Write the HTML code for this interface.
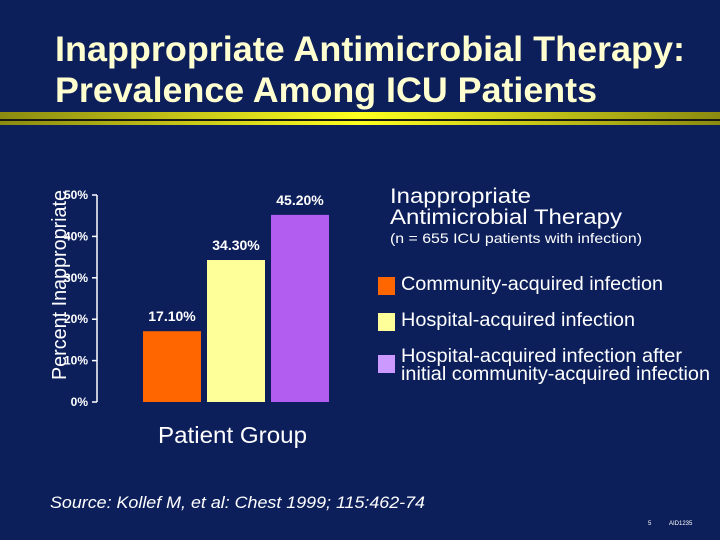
<!DOCTYPE html>
<html><head><meta charset="utf-8"><style>
body{margin:0;background:#0c1f5b;}
svg{display:block;font-family:"Liberation Sans",sans-serif;}
</style></head><body>
<svg width="720" height="540" viewBox="0 0 720 540">
<defs><linearGradient id="band" x1="0" x2="1" y1="0" y2="0">
<stop offset="0" stop-color="#8a8a10"/><stop offset="0.5" stop-color="#ffff20"/><stop offset="1" stop-color="#8a8a10"/></linearGradient></defs>
<rect width="720" height="540" fill="#0c1f5b"/>
<g fill="#ffffd0" font-size="35" font-weight="bold">
<text x="55" y="61" textLength="630" lengthAdjust="spacingAndGlyphs">Inappropriate Antimicrobial Therapy:</text>
<text x="55" y="102" textLength="542" lengthAdjust="spacingAndGlyphs">Prevalence Among ICU Patients</text></g>
<rect x="0" y="112" width="720" height="7" fill="url(#band)"/>
<rect x="0" y="119" width="720" height="2" fill="#1a1a10"/>
<rect x="0" y="121" width="720" height="4" fill="url(#band)"/>
<text transform="translate(66,380) rotate(-90)" font-size="20" fill="#fff" textLength="190" lengthAdjust="spacingAndGlyphs">Percent Inappropriate</text>
<g id="chart"></g>
<text x="158" y="443" font-size="23" fill="#fff" textLength="149" lengthAdjust="spacingAndGlyphs">Patient Group</text>
<g fill="#fff">
<text x="390" y="203" font-size="21" textLength="141" lengthAdjust="spacingAndGlyphs">Inappropriate</text>
<text x="390" y="224" font-size="21" textLength="232" lengthAdjust="spacingAndGlyphs">Antimicrobial Therapy</text>
<text x="390" y="243" font-size="14" textLength="252" lengthAdjust="spacingAndGlyphs">(n = 655 ICU patients with infection)</text>
<rect x="378" y="277" width="17" height="18" fill="#ff6600"/>
<text x="401" y="290" font-size="19" textLength="262" lengthAdjust="spacingAndGlyphs">Community-acquired infection</text>
<rect x="378" y="313" width="17" height="18" fill="#ffff99"/>
<text x="401" y="326" font-size="19" textLength="234" lengthAdjust="spacingAndGlyphs">Hospital-acquired infection</text>
<rect x="378" y="355" width="17" height="18" fill="#cc99ff"/>
<text x="401" y="362" font-size="19" textLength="281" lengthAdjust="spacingAndGlyphs">Hospital-acquired infection after</text>
<text x="401" y="380" font-size="19" textLength="309" lengthAdjust="spacingAndGlyphs">initial community-acquired infection</text>
</g>
<text x="50" y="508" font-size="17" font-style="italic" fill="#fff" textLength="375" lengthAdjust="spacingAndGlyphs">Source: Kollef M, et al: Chest 1999; 115:462-74</text>
<text x="648" y="525" font-size="6" fill="#fff">5</text>
<text x="669" y="525" font-size="6" fill="#fff">AID1235</text>
</svg>
<script>
const categories=["Community-acquired","Hospital-acquired","Hospital-acquired after community"];
const values=[17.1,34.3,45.2];
const valueLabels=["17.10%","34.30%","45.20%"];
const colors=["#ff6600","#ffff99","#b35cf0"];
const ticks=[0,10,20,30,40,50];
const tickLabels=["0%","10%","20%","30%","40%","50%"];
const NS="http://www.w3.org/2000/svg";
const g=document.getElementById("chart");
const y0=402,y50=195,ax=97;
function y(v){return y0-(y0-y50)*v/50;}
function x(i){return 143+i*64;}
const bw=58;
function mk(t,a){const e=document.createElementNS(NS,t);for(const k in a)e.setAttribute(k,a[k]);g.appendChild(e);return e;}
const axis=mk("line",{x1:ax,x2:ax,y1:y(50),y2:y(0),stroke:"#fff","stroke-width":1.5});


ticks.forEach((t,i)=>{
 const l=mk("line",{x1:ax-5,x2:ax,y1:y(t),y2:y(t),stroke:"#fff","stroke-width":1.5});
 
 
 const tx=mk("text",{x:ax-9,y:y(t)+4,"text-anchor":"end","font-size":12,"font-weight":"bold",fill:"#fff"});
 tx.textContent=tickLabels[i];
 
 
});
values.forEach((v,i)=>{
 const r=mk("rect",{x:x(i),y:y(v),width:bw,height:y(0)-y(v),fill:colors[i]});
 
 
 const t=mk("text",{x:x(i)+bw/2,y:y(v)-10,"text-anchor":"middle","font-size":14,"font-weight":"bold",fill:"#fff"});
 t.textContent=valueLabels[i];
 
 
});
</script>
</body></html>
